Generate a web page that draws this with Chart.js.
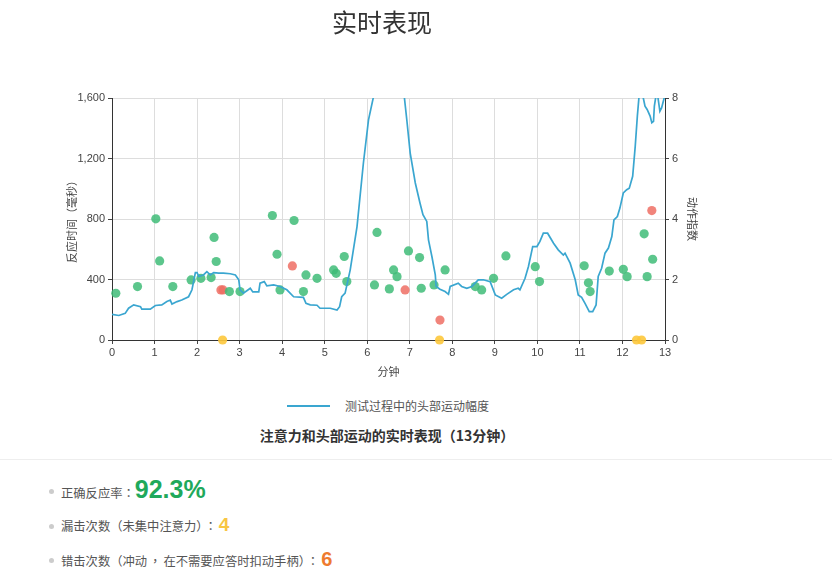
<!DOCTYPE html>
<html><head><meta charset="utf-8">
<script src="https://cdn.jsdelivr.net/npm/chart.js@4.4.1/dist/chart.umd.min.js"></script>
<style>
html,body{margin:0;padding:0;background:#fff;}
body{width:832px;height:572px;position:relative;overflow:hidden;font-family:'Noto Sans CJK SC','Liberation Sans',sans-serif;color:#555;}
#wrap{position:absolute;left:0;top:0;width:832px;height:382px;}
.lg-line{position:absolute;left:287px;top:405px;width:43px;height:2px;background:#3aa6d0;}
.lg-text{position:absolute;left:345px;top:397px;font-size:12px;line-height:18px;color:#555;white-space:nowrap;}
.sub{position:absolute;left:0;width:774px;top:424px;text-align:center;font-size:14px;line-height:22px;font-weight:bold;color:#333;}
.sep{position:absolute;left:0;top:459px;width:832px;height:1px;background:#eee;}
.dot{position:absolute;left:49px;width:5px;height:5px;border-radius:50%;background:#ccc;}
.row{position:absolute;left:61px;font-size:12.3px;line-height:30px;white-space:nowrap;color:#555;}
.tc{font-family:'Noto Sans CJK TC',sans-serif;}
.wide{margin:0 2px;}
.num{font-family:'Liberation Sans',sans-serif;font-weight:bold;}
</style></head><body>
<div id="wrap"><canvas id="c"></canvas></div>
<div class="lg-line"></div><div class="lg-text" id="lgText"></div>
<div class="sub" id="subTitle"></div>
<div class="sep"></div>
<div class="dot" style="top:489px"></div>
<div class="row" style="top:474px"><span id="s1"></span><span class="tc">：</span><span class="num" id="v1" style="font-size:25px;color:#1fa95b"></span></div>
<div class="dot" style="top:524px"></div>
<div class="row" style="top:510px"><span id="s2"></span><span class="tc wide">：</span><span class="num" id="v2" style="font-size:19px;color:#f8c644"></span></div>
<div class="dot" style="top:558px"></div>
<div class="row" style="top:544px"><span id="s3a"></span><span class="tc wide">，</span><span id="s3b"></span><span class="tc wide">：</span><span class="num" id="v3" style="font-size:20px;color:#ee7b2f"></span></div>
<script>
// ---- data ----
const chartTitle = '实时表现';
const legendLabel = '测试过程中的头部运动幅度';
const subTitle = '注意力和头部运动的实时表现（13分钟）';
const xTitle = '分钟';
const yLeftTitle = '反应时间（毫秒）';
const yRightTitle = '动作指数';

// head motion index curve: [minute, index]
const headMotion = [
 [0,0.85],[0.16,0.81],[0.31,0.88],[0.39,1.05],[0.51,1.16],[0.67,1.10],[0.70,1.02],[0.90,1.02],
 [1.02,1.14],[1.17,1.16],[1.29,1.27],[1.37,1.32],[1.41,1.19],[1.53,1.27],[1.64,1.32],[1.80,1.43],
 [1.88,1.66],[1.96,2.23],[2.00,2.23],[2.04,2.10],[2.15,2.15],[2.23,2.26],[2.31,2.15],[2.39,2.23],
 [2.51,2.21],[2.62,2.21],[2.78,2.19],[2.90,2.15],[2.98,1.99],[3.01,1.66],[3.09,1.55],[3.17,1.63],
 [3.25,1.71],[3.31,1.59],[3.45,1.59],[3.48,1.88],[3.58,1.93],[3.64,1.79],[3.80,1.82],[3.95,1.77],
 [4.11,1.66],[4.27,1.43],[4.50,1.41],[4.56,1.21],[4.66,1.16],[4.82,1.15],[4.89,1.05],[5.13,1.05],
 [5.29,0.99],[5.35,1.10],[5.40,1.43],[5.48,1.55],[5.60,2.32],[5.76,3.75],[5.91,5.85],[6.03,7.28],
 [6.15,8.06],[6.30,9.3],[6.45,10.1],[6.60,10.3],[6.75,9.5],[6.87,8.06],[6.93,7.28],[7.01,6.18],
 [7.13,5.19],[7.24,4.53],[7.31,4.14],[7.40,3.92],[7.44,3.31],[7.52,2.76],[7.60,2.15],[7.62,1.77],
 [7.71,1.68],[7.83,1.60],[7.91,1.51],[7.95,1.77],[8.14,1.88],[8.22,1.77],[8.34,1.71],[8.46,1.77],
 [8.61,1.99],[8.73,1.99],[8.89,1.93],[9.01,1.49],[9.16,1.38],[9.28,1.51],[9.44,1.66],[9.55,1.71],
 [9.59,1.66],[9.71,2.04],[9.79,2.43],[9.89,3.09],[9.99,3.09],[10.06,3.26],[10.14,3.53],[10.24,3.53],
 [10.38,3.20],[10.49,2.98],[10.61,2.81],[10.65,2.87],[10.77,2.54],[10.89,1.99],[10.96,1.49],[11.04,1.41],
 [11.12,1.21],[11.22,0.94],[11.30,0.94],[11.38,1.16],[11.43,2.10],[11.51,2.37],[11.59,2.87],[11.67,3.04],
 [11.75,3.42],[11.80,3.97],[11.88,4.08],[11.94,4.36],[12.02,4.86],[12.10,4.97],[12.16,5.02],[12.24,5.41],
 [12.30,6.40],[12.35,7.40],[12.39,8.06],[12.44,8.3],[12.49,8.0],[12.53,7.73],[12.58,7.62],[12.65,7.40],
 [12.69,7.18],[12.73,7.23],[12.75,7.73],[12.79,8.1],[12.83,8.06],[12.88,7.56],[12.92,7.67],[12.98,8.0],[13.0,8.0]
];

// correct responses
const correctTime = [0.09,0.60,1.03,1.12,1.43,1.86,2.09,2.33,2.40,2.45,2.76,3.01,3.77,3.88,3.95,4.28,4.50,4.56,4.82,5.21,5.27,5.46,5.52,6.17,6.23,6.52,6.62,6.70,6.97,7.23,7.27,7.57,7.83,8.54,8.69,8.97,9.26,9.95,10.05,11.10,11.20,11.24,11.69,12.02,12.11,12.51,12.58,12.71];
const correctRT   = [309,353,801,523,353,397,408,413,678,519,320,320,823,567,331,790,320,430,408,463,441,552,386,364,711,338,463,419,589,545,342,364,463,353,331,408,556,485,386,491,378,320,456,467,419,702,419,534];
// commission errors
const errorTime = [2.56,2.61,4.24,6.89,7.71,12.69];
const errorRT   = [331,331,490,331,132,856];
// omissions
const missTime = [2.60,7.70,12.33,12.45];
const missRT   = [0,0,0,0];

const xTicks = {min:0, max:13, step:1};
const yLeftTicks = {min:0, max:1600, step:400};
const yRightTicks = {min:0, max:8, step:2};

const statLabel1 = '正确反应率';
const statLabel2 = '漏击次数（未集中注意力）';
const statLabel3a = '错击次数（冲动';
const statLabel3b = '在不需要应答时扣动手柄）';
const statValues = ['92.3%','4','6'];

// ---- text ----
document.getElementById('lgText').textContent = legendLabel;
document.getElementById('subTitle').textContent = subTitle;
document.getElementById('s1').textContent = statLabel1;
document.getElementById('s2').textContent = statLabel2;
document.getElementById('s3a').textContent = statLabel3a;
document.getElementById('s3b').textContent = statLabel3b;
['v1','v2','v3'].forEach((id,i)=>document.getElementById(id).textContent = statValues[i]);

// ---- chart ----
const pts = (xs, ys) => xs.map((x,i)=>({x, y: ys[i]}));
Chart.defaults.font.family = "'Liberation Sans','Noto Sans CJK SC',sans-serif";
Chart.defaults.color = '#444';

new Chart(document.getElementById('c'), {
  type: 'line',
  data: {
    datasets: [
      {type:'line', label: legendLabel, data: headMotion.map(p=>({x:p[0], y:p[1]})), yAxisID:'y1',
       borderColor:'#3aa6d0', backgroundColor:'#3aa6d0', borderWidth:1.7, pointRadius:0, tension:0, fill:false},
      {type:'scatter', label:'correct', data: pts(correctTime, correctRT), yAxisID:'y',
       backgroundColor:'rgba(64,188,120,0.85)', borderWidth:0, pointRadius:4.6, clip:false},
      {type:'scatter', label:'error', data: pts(errorTime, errorRT), yAxisID:'y',
       backgroundColor:'rgba(238,110,100,0.85)', borderWidth:0, pointRadius:4.6, clip:false},
      {type:'scatter', label:'miss', data: pts(missTime, missRT), yAxisID:'y',
       backgroundColor:'rgba(253,200,60,0.9)', borderWidth:0, pointRadius:4.6, clip:false}
    ]
  },
  options: {
    responsive:true, maintainAspectRatio:false, animation:false,
    layout:{padding:{left:61, right:129, top:0, bottom:0}},
    plugins:{
      legend:{display:false},
      tooltip:{enabled:false},
      title:{display:true, text: chartTitle, color:'#333', font:{size:25, weight:'normal', family:"'Noto Sans CJK SC',sans-serif"},
             padding:{top:7.5, bottom:60.5}}
    },
    scales:{
      x:{type:'linear', min:xTicks.min, max:xTicks.max,
         ticks:{stepSize:xTicks.step, padding:2, font:{size:11}, color:'#444'},
         grid:{color:'#ddd', tickColor:'#444', tickLength:4},
         border:{color:'#333'},
         title:{display:true, text:xTitle, font:{size:11, family:"'Noto Sans CJK SC',sans-serif"}, color:'#444'},
         afterFit: s => { s.height = 42; }},
      y:{type:'linear', position:'left', min:yLeftTicks.min, max:yLeftTicks.max,
         ticks:{stepSize:yLeftTicks.step, padding:3, font:{size:11}, color:'#444'},
         grid:{color:'#ddd', tickColor:'#444', tickLength:4},
         border:{color:'#333'},
         title:{display:true, text:yLeftTitle, font:{size:11, family:"'Noto Sans CJK SC',sans-serif"}, color:'#444'},
         afterFit: s => { s.width = 51; }},
      y1:{type:'linear', position:'right', min:yRightTicks.min, max:yRightTicks.max,
         ticks:{stepSize:yRightTicks.step, padding:3, font:{size:11}, color:'#444'},
         grid:{drawOnChartArea:false, tickColor:'#444', tickLength:4},
         border:{color:'#333'},
         title:{display:true, text:yRightTitle, font:{size:11, family:"'Noto Sans CJK SC',sans-serif"}, color:'#444'},
         afterFit: s => { s.width = 38; }}
    }
  }
});
</script>
</body></html>
